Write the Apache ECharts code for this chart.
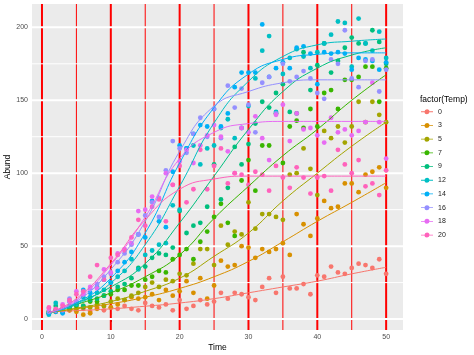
<!DOCTYPE html>
<html><head><meta charset="utf-8">
<script src="https://cdn.jsdelivr.net/npm/echarts@6/dist/echarts.min.js"></script>
<style>html,body{margin:0;padding:0;background:#fff}#c{width:474px;height:355px}</style>
</head><body><div id="c"></div>
<script>
const temps = ['0','3','5','7','9','12','14','16','18','20'];
const colors = ['#F8766D','#D89000','#A3A500','#39B600','#00BF7D','#00BFC4','#00B0F6','#9590FF','#E76BF3','#FF62BC'];
const times = [1,2,3,4,5,6,7,8,9,10,11,12,13,14,15,16,17,18,19,20,21,22,23,24,25,26,27,28,29,30,31,32,33,34,35,36,37,38,39,40,41,42,43,44,45,46,47,48,49,50];

const abund0  = [5,6,5,6,6,7,5,8,6,8, 7,9,7,6,11,9,8,10,6,13, 7,9,13,10,12,18,14,18,17,15, 13,22,28,18,29,21,21,24,17,30, 29,36,32,31,35,38,37,35,41,31];
const abund3  = [5,5,6,6,5,3,4,7,9,8, 10,13,15,14,15,17,13,20,16,19, 26,18,28,14,23,40,36,37,50,49, 42,48,46,48,52,44,72,65,57,69, 81,76,77,93,93,87,99,101,104,90];
const abund5  = [4,6,5,7,7,9,8,10,9,12, 14,13,16,18,22,25,22,27,26,31, 30,38,48,48,37,64,51,60,58,80, 62,72,72,70,68,99,100,117,103,85, 129,124,132,121,132,149,135,149,140,135];
const abund7  = [5,6,7,7,9,8,12,12,16,17, 20,20,23,23,27,29,33,32,41,44, 48,41,53,60,70,79,66,57,95,109, 88,119,119,141,107,132,136,131,144,132, 155,157,144,164,164,166,173,173,149,172];
const abund9  = [4,9,6,8,10,9,13,14,16,19, 22,24,28,35,36,42,45,44,49,74, 59,64,66,77,106,82,90,118,106,120, 134,149,145,155,161,142,141,183,157,174, 189,169,177,186,193,189,189,198,190,175];
const abund12 = [3,11,5,9,10,15,15,18,20,25, 29,33,41,34,44,47,51,52,78,75, 117,119,106,117,119,131,137,124,131,146, 165,184,194,142,168,179,185,180,172,183, 189,195,204,203,173,206,189,184,197,179];
const abund14 = [4,5,4,12,11,20,18,22,27,25, 33,39,46,58,56,81,67,63,101,119, 117,127,133,132,144,132,141,159,169,169, 169,202,166,172,176,172,186,187,182,161, 183,182,183,182,171,179,178,177,171,176];
const abund16 = [5,6,6,14,12,17,21,24,29,31, 39,45,51,58,71,80,70,102,122,117, 114,127,138,125,144,124,160,145,158,147, 128,162,166,141,175,163,166,170,165,155, 151,178,175,198,165,159,177,178,156,171];
const abund18 = [7,6,10,12,19,17,22,21,34,32, 45,48,52,74,75,84,83,100,92,108, 116,107,119,126,133,125,115,100,131,128, 139,124,109,140,147,122,141,130,131,126, 121,138,128,130,126,129,135,162,135,110];
const abund20 = [8,7,9,13,17,19,29,37,27,42, 44,47,56,68,64,77,82,67,92,105, 80,89,116,89,105,117,93,100,99,92, 101,99,88,105,97,90,104,97,86,97, 98,88,116,106,100,109,91,93,85,102];

const fitTimes = [1,5,10,15,20,25,30,35,40,45,50];
const fit0  = [5, 5.8, 7, 8.8, 11, 14, 18, 22, 26, 31, 35.5];
const fit3  = [4.5, 7, 10.5, 15, 21, 29, 39.5, 53, 67, 80, 93.5];
const fit5  = [4.5, 7.5, 12, 19, 28, 43, 59, 81, 100, 118.5, 135];
const fit7  = [4.5, 10, 18, 29, 44, 69, 91, 112, 130, 150, 167.5];
const fit9  = [4.5, 11, 22, 38, 66, 98, 130, 156, 172, 181, 186];
const fit12 = [4.5, 10, 24.7, 51, 91, 134.5, 163, 180, 188, 190.5, 192];
const fit14 = [4.5, 11, 28, 59, 107, 145, 168, 178, 181.5, 182.5, 182.5];
const fit16 = [4.5, 12, 34, 67, 115, 146, 156, 162, 164, 164, 164];
const fit18 = [4.5, 13, 37, 70, 110, 128, 134, 135.5, 135.5, 135.5, 135.5];
const fit20 = [4.5, 14, 38, 68, 89, 96, 98, 98, 98, 98, 98];

const xMajor = [0,10,20,30,40,50];
const xMinor = [5,15,25,35,45];
const yMajor = [0,50,100,150,200];
const yMinor = [25,75,125,175];

const abundAll = [abund0,abund3,abund5,abund7,abund9,abund12,abund14,abund16,abund18,abund20];
const fitAll = [fit0,fit3,fit5,fit7,fit9,fit12,fit14,fit16,fit18,fit20];

const FONT = '"Liberation Sans", Arial, sans-serif';
const X_MIN = -1.45, X_MAX = 52.45, Y_MIN = -7.5, Y_MAX = 216;

const series = [];
function gridLine(v, vertical, width, color) {
  series.push({
    type:'line', z:2, showSymbol:false,
    lineStyle:{color:color, width:width},
    data: vertical ? [[v, Y_MIN], [v, Y_MAX]] : [[X_MIN, v], [X_MAX, v]]
  });
}
xMinor.forEach(v=>gridLine(v, true, 1, '#FF0000'));
xMajor.forEach(v=>gridLine(v, true, 2, '#FF0000'));
yMinor.forEach(v=>gridLine(v, false, 1, '#FFFFFF'));
yMajor.forEach(v=>gridLine(v, false, 2, '#FFFFFF'));
temps.forEach((t,i)=>{
  series.push({
    type:'scatter', name:t, symbol:'circle', symbolSize:4.8, z:3,
    itemStyle:{color:colors[i], opacity:1, borderWidth:0},
    data: times.map((x,j)=>[x, abundAll[i][j]])
  });
});
temps.forEach((t,i)=>{
  series.push({
    type:'line', name:t, showSymbol:false, symbol:'none', smooth:0.5, z:4,
    lineStyle:{color:colors[i], width:1},
    itemStyle:{color:colors[i]},
    data: fitTimes.map((x,j)=>[x, fitAll[i][j]])
  });
});

const chart = echarts.init(document.getElementById('c'), null, {renderer:'canvas'});
chart.setOption({
  animation:false,
  backgroundColor:'#FFFFFF',
  textStyle:{fontFamily:FONT},
  title:{text:'factor(Temp)', left:415, top:90, textStyle:{fontSize:8.5, fontWeight:'normal', color:'#000', fontFamily:FONT}},
  legend:{
    orient:'vertical', left:416, top:102,
    data: temps.map(t=>({name:t, icon:'path://M0,2.1 L12,2.1 L12,2.9 L0,2.9 Z M6,0 A2.5,2.5 0 1,1 5.99,0 Z'})),
    itemWidth:12, itemHeight:5, itemGap:4.2,
    textStyle:{fontSize:7, color:'#1A1A1A', lineHeight:9.5, fontFamily:FONT},
    selectedMode:false
  },
  grid:{left:32, top:4, width:371, height:326, show:true, backgroundColor:'#EBEBEB', borderWidth:0, containLabel:false, outerBoundsMode:'none'},
  xAxis:{
    type:'value', min:X_MIN, max:X_MAX,
    name:'Time', nameLocation:'middle', nameGap:13, nameMoveOverlap:false,
    nameTextStyle:{fontSize:8.5, color:'#000', fontFamily:FONT},
    axisLine:{show:false},
    axisTick:{show:true, length:3, customValues:xMajor, lineStyle:{color:'#333333', width:1}},
    axisLabel:{customValues:xMajor, fontSize:7, color:'#4D4D4D', margin:4, fontFamily:FONT},
    splitLine:{show:false}, minorSplitLine:{show:false}
  },
  yAxis:{
    type:'value', min:Y_MIN, max:Y_MAX,
    name:'Abund', nameLocation:'middle', nameGap:20, nameMoveOverlap:false,
    nameTextStyle:{fontSize:8.5, color:'#000', fontFamily:FONT},
    axisLine:{show:false},
    axisTick:{show:true, length:3, customValues:yMajor, lineStyle:{color:'#333333', width:1}},
    axisLabel:{customValues:yMajor, fontSize:7, color:'#4D4D4D', margin:4, fontFamily:FONT},
    splitLine:{show:false}, minorSplitLine:{show:false}
  },
  series: series
});
</script></body></html>
